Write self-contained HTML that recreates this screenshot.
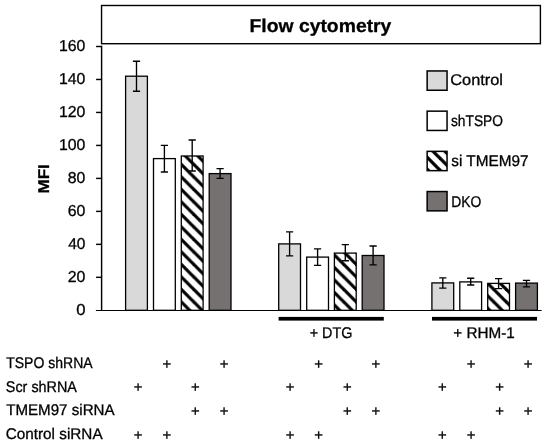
<!DOCTYPE html>
<html><head><meta charset="utf-8"><title>Flow cytometry</title>
<style>html,body{margin:0;padding:0;background:#fff;}svg{display:block;}text{font-family:"Liberation Sans", sans-serif;fill:#000;stroke:#000;stroke-width:0.3px;text-rendering:geometricPrecision;}</style>
</head><body>
<svg width="550" height="448" viewBox="0 0 550 448">
<defs>
<pattern id="hatch" patternUnits="userSpaceOnUse" width="12.50" height="12.50" patternTransform="translate(180.00 175.60)">
<rect width="12.50" height="12.50" fill="#fff"/>
<line x1="-2" y1="-14.50" x2="14.50" y2="2.00" stroke="#000" stroke-width="3.20"/>
<line x1="-2" y1="-2.00" x2="14.50" y2="14.50" stroke="#000" stroke-width="3.20"/>
<line x1="-2" y1="10.50" x2="14.50" y2="27.00" stroke="#000" stroke-width="3.20"/>
</pattern>
<pattern id="hatchL" patternUnits="userSpaceOnUse" width="11.90" height="11.90" patternTransform="translate(427.00 157.17)">
<rect width="11.90" height="11.90" fill="#fff"/>
<line x1="-2" y1="-13.90" x2="13.90" y2="2.00" stroke="#000" stroke-width="3.30"/>
<line x1="-2" y1="-2.00" x2="13.90" y2="13.90" stroke="#000" stroke-width="3.30"/>
<line x1="-2" y1="9.90" x2="13.90" y2="25.80" stroke="#000" stroke-width="3.30"/>
</pattern>
</defs>
<rect width="550" height="448" fill="#fff"/>
<rect x="101.55" y="5.5" width="438.85" height="38.2" fill="#fff" stroke="#000" stroke-width="1.4"/>
<text transform="translate(249.52 31.50) scale(1.0399 1)" font-size="18.60" font-weight="bold" stroke-width="0">Flow cytometry</text>
<rect x="125.60" y="76.20" width="21.80" height="234.10" fill="#d9d9d9" stroke="#000" stroke-width="1.3"/>
<rect x="153.50" y="158.60" width="21.80" height="151.70" fill="#ffffff" stroke="#000" stroke-width="1.3"/>
<rect x="181.30" y="156.00" width="21.80" height="154.30" fill="url(#hatch)" stroke="#000" stroke-width="1.3"/>
<rect x="209.20" y="173.60" width="21.80" height="136.70" fill="#767171" stroke="#000" stroke-width="1.3"/>
<path d="M136.50 61.20V91.20M132.90 61.20H140.10M132.90 91.20H140.10" fill="none" stroke="#000" stroke-width="1.35"/>
<path d="M164.40 145.40V172.00M160.80 145.40H168.00M160.80 172.00H168.00" fill="none" stroke="#000" stroke-width="1.35"/>
<path d="M192.20 140.00V171.00M188.60 140.00H195.80M188.60 171.00H195.80" fill="none" stroke="#000" stroke-width="1.35"/>
<path d="M220.10 168.60V178.40M216.50 168.60H223.70M216.50 178.40H223.70" fill="none" stroke="#000" stroke-width="1.35"/>
<rect x="278.70" y="243.90" width="21.80" height="66.40" fill="#d9d9d9" stroke="#000" stroke-width="1.3"/>
<rect x="306.70" y="257.10" width="21.80" height="53.20" fill="#ffffff" stroke="#000" stroke-width="1.3"/>
<rect x="334.40" y="253.10" width="21.80" height="57.20" fill="url(#hatch)" stroke="#000" stroke-width="1.3"/>
<rect x="362.20" y="255.50" width="21.80" height="54.80" fill="#767171" stroke="#000" stroke-width="1.3"/>
<path d="M289.60 231.80V255.90M286.00 231.80H293.20M286.00 255.90H293.20" fill="none" stroke="#000" stroke-width="1.35"/>
<path d="M317.60 248.80V265.40M314.00 248.80H321.20M314.00 265.40H321.20" fill="none" stroke="#000" stroke-width="1.35"/>
<path d="M345.30 244.60V260.70M341.70 244.60H348.90M341.70 260.70H348.90" fill="none" stroke="#000" stroke-width="1.35"/>
<path d="M373.10 246.00V264.90M369.50 246.00H376.70M369.50 264.90H376.70" fill="none" stroke="#000" stroke-width="1.35"/>
<rect x="431.90" y="282.90" width="21.80" height="27.40" fill="#d9d9d9" stroke="#000" stroke-width="1.3"/>
<rect x="459.80" y="281.90" width="21.80" height="28.40" fill="#ffffff" stroke="#000" stroke-width="1.3"/>
<rect x="487.70" y="283.40" width="21.80" height="26.90" fill="url(#hatch)" stroke="#000" stroke-width="1.3"/>
<rect x="515.60" y="283.10" width="21.80" height="27.20" fill="#767171" stroke="#000" stroke-width="1.3"/>
<path d="M442.80 277.90V288.10M439.20 277.90H446.40M439.20 288.10H446.40" fill="none" stroke="#000" stroke-width="1.35"/>
<path d="M470.70 278.20V285.00M467.10 278.20H474.30M467.10 285.00H474.30" fill="none" stroke="#000" stroke-width="1.35"/>
<path d="M498.60 278.60V288.60M495.00 278.60H502.20M495.00 288.60H502.20" fill="none" stroke="#000" stroke-width="1.35"/>
<path d="M526.50 280.30V286.90M522.90 280.30H530.10M522.90 286.90H530.10" fill="none" stroke="#000" stroke-width="1.35"/>
<path d="M101.6 45.85V310.30" stroke="#000" stroke-width="1.45" fill="none"/>
<path d="M95.9 310.50H541.6" stroke="#000" stroke-width="1.05" fill="none"/>
<text transform="translate(76.15 315.25) scale(1.0571 1)" font-size="15.80">0</text>
<path d="M96.1 277.32H101.6" stroke="#000" stroke-width="1.45" fill="none"/>
<text transform="translate(67.70 282.27) scale(1.0075 1)" font-size="15.80">20</text>
<path d="M96.1 244.35H101.6" stroke="#000" stroke-width="1.45" fill="none"/>
<text transform="translate(68.16 249.30) scale(0.9807 1)" font-size="15.80">40</text>
<path d="M96.1 211.38H101.6" stroke="#000" stroke-width="1.45" fill="none"/>
<text transform="translate(67.70 216.32) scale(1.0075 1)" font-size="15.80">60</text>
<path d="M96.1 178.40H101.6" stroke="#000" stroke-width="1.45" fill="none"/>
<text transform="translate(67.82 183.35) scale(1.0006 1)" font-size="15.80">80</text>
<path d="M96.1 145.42H101.6" stroke="#000" stroke-width="1.45" fill="none"/>
<text transform="translate(59.00 150.37) scale(1.0019 1)" font-size="15.80">100</text>
<path d="M96.1 112.45H101.6" stroke="#000" stroke-width="1.45" fill="none"/>
<text transform="translate(59.00 117.40) scale(1.0019 1)" font-size="15.80">120</text>
<path d="M96.1 79.47H101.6" stroke="#000" stroke-width="1.45" fill="none"/>
<text transform="translate(59.00 84.42) scale(1.0019 1)" font-size="15.80">140</text>
<path d="M96.1 46.50H101.6" stroke="#000" stroke-width="1.45" fill="none"/>
<text transform="translate(59.00 51.45) scale(1.0019 1)" font-size="15.80">160</text>
<text transform="translate(48.6 193.42) rotate(-90) scale(1.0892 1)" font-size="15.60" font-weight="bold" stroke-width="0">MFI</text>
<rect x="427.15" y="70.95" width="19.9" height="19.3" fill="#d9d9d9" stroke="#000" stroke-width="1.5"/>
<text transform="translate(450.28 85.25) scale(1.0549 1)" font-size="15.50">Control</text>
<rect x="427.15" y="111.15" width="19.9" height="19.3" fill="#ffffff" stroke="#000" stroke-width="1.5"/>
<text transform="translate(450.93 125.75) scale(0.8883 1)" font-size="15.50">shTSPO</text>
<rect x="427.15" y="151.35" width="19.9" height="19.3" fill="url(#hatchL)" stroke="#000" stroke-width="1.5"/>
<text transform="translate(451.29 166.15) scale(0.9897 1)" font-size="15.50">si TMEM97</text>
<rect x="427.15" y="191.55" width="19.9" height="19.3" fill="#767171" stroke="#000" stroke-width="1.5"/>
<text transform="translate(451.16 206.65) scale(0.8963 1)" font-size="15.50">DKO</text>
<rect x="278.6" y="316.9" width="105.2" height="3.7" fill="#000"/>
<rect x="432" y="316.9" width="105" height="3.7" fill="#000"/>
<text transform="translate(309.71 338.10) scale(0.9338 1)" font-size="15.40">+ DTG</text>
<text transform="translate(453.27 338.10) scale(0.9909 1)" font-size="15.40">+ RHM-1</text>
<text transform="translate(6.19 368.30) scale(0.9110 1)" font-size="15.40">TSPO shRNA</text>
<text transform="translate(5.85 391.50) scale(0.9333 1)" font-size="15.40">Scr shRNA</text>
<text transform="translate(6.17 415.10) scale(0.9826 1)" font-size="15.40">TMEM97 siRNA</text>
<text transform="translate(5.74 438.60) scale(0.9932 1)" font-size="15.40">Control siRNA</text>
<text x="166.80" y="368.65" font-size="14.9" text-anchor="middle">+</text>
<text x="224.00" y="368.65" font-size="14.9" text-anchor="middle">+</text>
<text x="138.20" y="392.05" font-size="14.9" text-anchor="middle">+</text>
<text x="195.30" y="392.05" font-size="14.9" text-anchor="middle">+</text>
<text x="195.30" y="415.85" font-size="14.9" text-anchor="middle">+</text>
<text x="224.00" y="415.85" font-size="14.9" text-anchor="middle">+</text>
<text x="138.20" y="439.75" font-size="14.9" text-anchor="middle">+</text>
<text x="166.80" y="439.75" font-size="14.9" text-anchor="middle">+</text>
<text x="318.70" y="368.65" font-size="14.9" text-anchor="middle">+</text>
<text x="375.80" y="368.65" font-size="14.9" text-anchor="middle">+</text>
<text x="290.00" y="392.05" font-size="14.9" text-anchor="middle">+</text>
<text x="347.30" y="392.05" font-size="14.9" text-anchor="middle">+</text>
<text x="347.30" y="415.85" font-size="14.9" text-anchor="middle">+</text>
<text x="375.80" y="415.85" font-size="14.9" text-anchor="middle">+</text>
<text x="290.00" y="439.75" font-size="14.9" text-anchor="middle">+</text>
<text x="318.70" y="439.75" font-size="14.9" text-anchor="middle">+</text>
<text x="471.00" y="368.65" font-size="14.9" text-anchor="middle">+</text>
<text x="528.20" y="368.65" font-size="14.9" text-anchor="middle">+</text>
<text x="442.40" y="392.05" font-size="14.9" text-anchor="middle">+</text>
<text x="499.50" y="392.05" font-size="14.9" text-anchor="middle">+</text>
<text x="499.50" y="415.85" font-size="14.9" text-anchor="middle">+</text>
<text x="528.20" y="415.85" font-size="14.9" text-anchor="middle">+</text>
<text x="442.40" y="439.75" font-size="14.9" text-anchor="middle">+</text>
<text x="471.00" y="439.75" font-size="14.9" text-anchor="middle">+</text>
</svg>
</body></html>
